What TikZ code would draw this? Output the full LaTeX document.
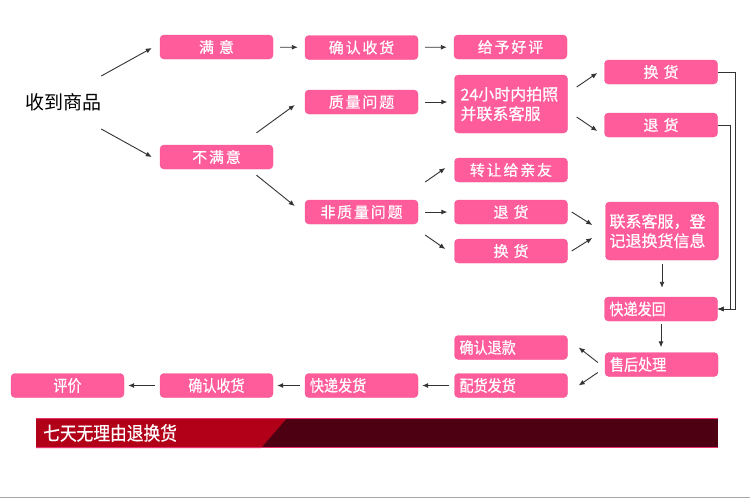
\documentclass[tikz,border=0pt]{standalone}
\usepackage{fontspec}
\usepackage{tikz}
\usetikzlibrary{arrows.meta,positioning}
\newfontfamily\cjk{Noto Sans CJK SC}
\newfontfamily\cjkbox[FakeBold=0.6]{Noto Sans CJK SC}
\newfontfamily\cjkwide[LetterSpace=12,FakeBold=0.6]{Noto Sans CJK SC}
\newfontfamily\cjknarrow[FakeStretch=0.88,FakeBold=0.5]{Noto Sans CJK SC}
\definecolor{boxpink}{RGB}{255,92,155}
\definecolor{boxedge}{RGB}{246,82,146}
\definecolor{arrgray}{RGB}{51,51,51}
\definecolor{bannerred}{RGB}{177,0,24}
\definecolor{bannerdark}{RGB}{76,0,18}
\definecolor{bannerline}{RGB}{230,50,110}

\begin{document}
\begin{tikzpicture}[
  x=1pt,y=-1pt,
  box/.style={draw=boxedge,fill=boxpink,rounded corners=4pt,text=white,
              minimum width=113pt,minimum height=24pt,inner sep=0pt,
              font=\cjkwide\fontsize{15}{18}\selectfont},
  tbox/.style={box,text width=101pt,inner xsep=6pt,align=left,
               minimum height=58pt,font=\cjkbox\fontsize{16}{19.5}\selectfont},
  nbox/.style={box,text width=103pt,inner xsep=5pt,align=left,
               font=\cjknarrow\fontsize{16}{18}\selectfont},
  arr/.style={-{Latex[length=6pt,width=5pt]},arrgray,line width=0.9pt},
  harr/.style={arr,shorten <=7pt,shorten >=7pt},
  larr/.style={arr,shorten <=5pt,shorten >=4pt}
]
\useasboundingbox (0,0) rectangle (750,501);
\fill[white] (0,0) rectangle (750,501);

\node[inner sep=0pt,font=\cjk\fontsize{19}{22}\selectfont] (recv) at (63,102) {收到商品};
\node[box] (ok) at (216.5,47) {满\hspace{5pt}意};
\node[box] (confirm1) at (361.5,47.5) {确认收货};
\node[box] (praise) at (510.5,47) {给予好评};
\node[box] (bad) at (216.5,157) {不满意};
\node[box] (quality) at (361.5,102) {质量问题};
\node[tbox] (photo) at (511,104) {24小时内拍照\\并联系客服};
\node[box] (swap1) at (661,72) {换\hspace{5pt}货};
\node[box] (ret1) at (661,125) {退\hspace{5pt}货};
\node[box] (nonq) at (361.5,212) {非质量问题};
\node[box] (gift) at (511,170) {转让给亲友};
\node[box] (ret2) at (511,212) {退\hspace{5pt}货};
\node[box] (swap2) at (511,251) {换\hspace{5pt}货};
\node[tbox,inner xsep=4pt,text width=105pt] (contact) at (662,231) {联系客服，登\\记退换货信息};
\node[nbox] (back) at (661,309) {快递发回};
\node[nbox] (after) at (661.5,364.5) {售后处理};
\node[nbox] (refund) at (511,347.5) {确认退款};
\node[nbox] (ship) at (511,385.5) {配货发货};
\node[nbox] (express) at (361.5,385.5) {快递发货};
\node[box,font=\cjknarrow\fontsize{16}{18}\selectfont] (confirm2) at (216.5,385.5) {确认收货};
\node[box,font=\cjknarrow\fontsize{16}{18}\selectfont] (review) at (67.5,385.5) {评价};

% Arrows
\draw[arr] ([yshift=17pt]recv.north east) -- ([xshift=-8pt,yshift=-1pt]ok.west);
\draw[arr] ([yshift=-18pt]recv.south east) -- ([xshift=-8pt]bad.west);
\draw[harr] (ok) -- (confirm1);
\draw[harr] (confirm1) -- (praise);
\draw[arr] ([xshift=40pt,yshift=12pt]bad.north) -- ([xshift=-10pt,yshift=-3pt]quality.west);
\draw[arr] ([xshift=40pt,yshift=-6pt]bad.south) -- ([xshift=-10pt,yshift=6pt]nonq.west);
\draw[harr] (quality) -- (photo.west |- quality);
\draw[arr] ([xshift=9pt,yshift=17pt]photo.east) -- ([xshift=-7pt,yshift=-1pt]swap1.west);
\draw[arr] ([xshift=9pt,yshift=-13pt]photo.east) -- ([xshift=-7pt,yshift=-6pt]ret1.west);
\draw[arr] ([xshift=7pt,yshift=30pt]nonq.east) -- ([xshift=-9pt,yshift=2pt]gift.west);
\draw[harr] (nonq) -- (ret2);
\draw[arr] ([xshift=7pt,yshift=-23pt]nonq.east) -- ([xshift=-9pt,yshift=2pt]swap2.west);
\draw[arr] ([xshift=4pt]ret2.east) -- ([xshift=-13pt,yshift=6pt]contact.west);
\draw[arr] ([xshift=4pt]swap2.east) -- ([xshift=-13pt,yshift=-7pt]contact.west);
\draw[arr,shorten <=4pt,shorten >=9pt] (contact.south) -- (contact.south |- back.north);
\draw[arr,shorten <=3pt,shorten >=5pt] (back.south) -- (back.south |- after.north);
\draw[arr,line width=0.7pt] (swap1.east) -| ([xshift=18pt]back.east) -- (back.east);
\draw[arr,line width=0.7pt] (ret1.east) -| ([xshift=13pt]back.east) -- (back.east);
\draw[arr] ([xshift=-7pt,yshift=2pt]after.west) -- ([xshift=11pt]refund.east);
\draw[arr] ([xshift=-7pt,yshift=-8pt]after.west) -- ([xshift=11pt]ship.east);
\draw[larr] (ship) -- (express);
\draw[larr] (express) -- (confirm2);
\draw[larr] (confirm2) -- (review);

% Banner
\fill[bannerdark] (36,418) rectangle (718,448);
\fill[bannerred] (36,418) -- (287,418) -- (261,448) -- (36,448) -- cycle;
\draw[bannerline,line width=1pt] (36,418.5) -- (718,418.5);
\draw[bannerline,line width=1pt] (36,447.5) -- (718,447.5);
\node[anchor=west,inner sep=0pt,text=white,font=\cjknarrow\fontsize{19}{22}\selectfont]
  (banner) at (43,433) {七天无理由退换货};
\draw[gray!70,line width=1.2pt] (0,497.5) -- (750,497.5);
\end{tikzpicture}
\end{document}
